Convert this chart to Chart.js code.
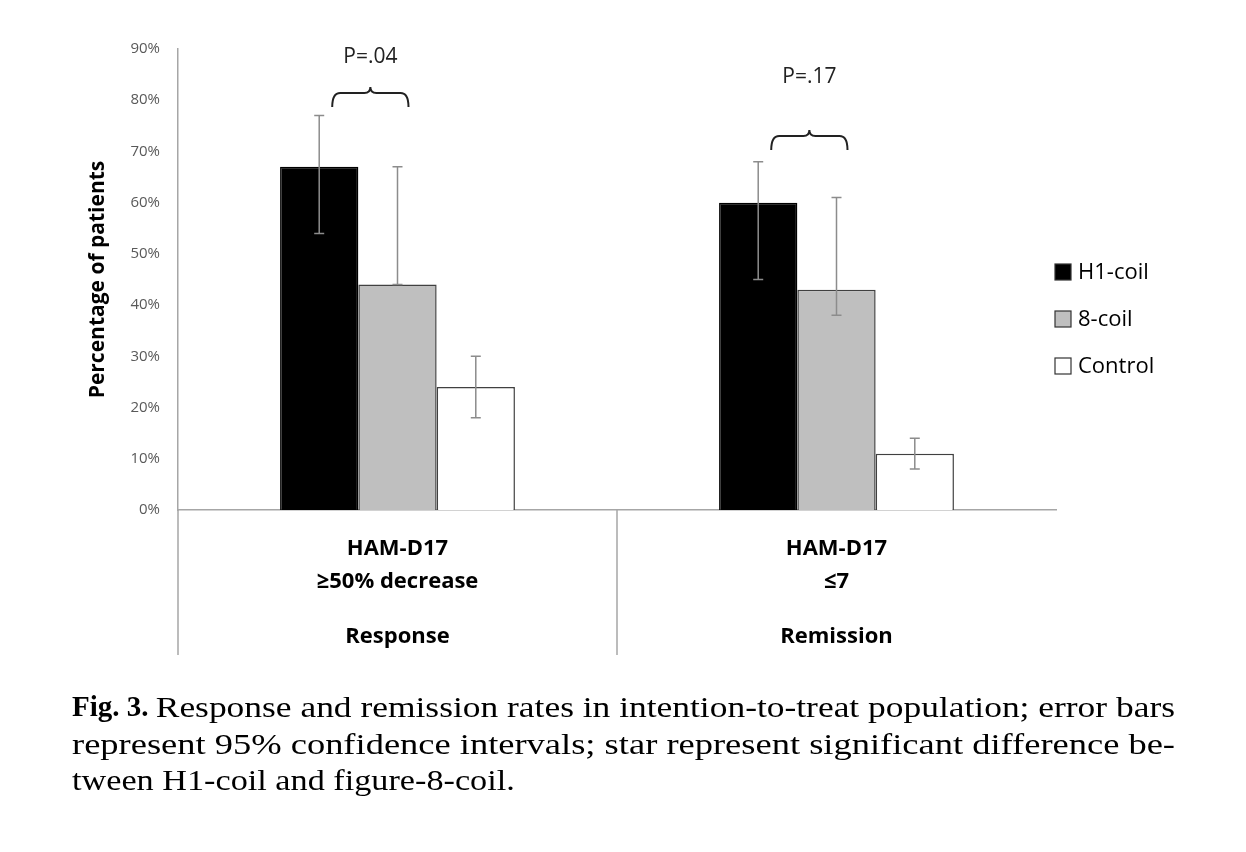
<!DOCTYPE html>
<html>
<head>
<meta charset="UTF-8">
<title>Fig. 3</title>
<style>
    body { margin: 0; background: #fff; }
    #wrap { width: 1246px; height: 852px; }
</style>
</head>
<body>
<div id="wrap"><canvas id="chart"></canvas></div>
<script src="https://cdn.jsdelivr.net/npm/chart.js"></script>
<script>
    // data
    const categories = ['Response', 'Remission'];
    const subLabels = [['HAM-D17', '≥50% decrease'], ['HAM-D17', '≤7']];
    const seriesNames = ['H1-coil', '8-coil', 'Control'];
    const h1Values = [67, 60];
    const coil8Values = [44, 43];
    const controlValues = [24, 11];
    const h1Lower = [54, 45], h1Upper = [77, 68];
    const coil8Lower = [44, 38], coil8Upper = [67, 61];
    const controlLower = [18, 8], controlUpper = [14 + 16, 14];
    controlUpper[0] = 30;
    const pValues = ['P=.04', 'P=.17'];
    const yTicks = [0, 10, 20, 30, 40, 50, 60, 70, 80, 90];

    const lowers = [h1Lower, coil8Lower, controlLower];
    const uppers = [h1Upper, coil8Upper, controlUpper];
    const fills = ['#000000', '#bfbfbf', '#ffffff'];

    const font = '"Open Sans", sans-serif';
    const serif = '"Liberation Serif", serif';

    function fitText(ctx, text, x, y, width) {
        const w = ctx.measureText(text).width;
        ctx.save();
        ctx.translate(x, y);
        ctx.scale(width / w, 1);
        ctx.fillText(text, 0, 0);
        ctx.restore();
    }

    const extras = {
        id: 'extras',
        afterDatasetsDraw(chart) {
            const ctx = chart.ctx;
            const y = chart.scales.y, x = chart.scales.x;
            const area = chart.chartArea;
            ctx.save();
            // error bars
            ctx.strokeStyle = '#8c8c8c';
            ctx.lineWidth = 1.5;
            chart.data.datasets.forEach((ds, i) => {
                chart.getDatasetMeta(i).data.forEach((bar, j) => {
                    const top = y.getPixelForValue(uppers[i][j]);
                    const bot = y.getPixelForValue(lowers[i][j]);
                    ctx.beginPath();
                    ctx.moveTo(bar.x, top); ctx.lineTo(bar.x, bot);
                    ctx.moveTo(bar.x - 5, top); ctx.lineTo(bar.x + 5, top);
                    ctx.moveTo(bar.x - 5, bot); ctx.lineTo(bar.x + 5, bot);
                    ctx.stroke();
                });
            });
            // braces + p values
            const braceBase = [78.7, 70.3];
            const pPos = [88.5, 84.6];
            ctx.strokeStyle = '#222';
            ctx.lineWidth = 2;
            ctx.fillStyle = '#222';
            ctx.font = '21px ' + font;
            ctx.textAlign = 'center';
            ctx.textBaseline = 'middle';
            for (let j = 0; j < 2; j++) {
                const a = chart.getDatasetMeta(0).data[j].x + 13;
                const b = chart.getDatasetMeta(1).data[j].x + 11;
                const m = (a + b) / 2;
                const yb = y.getPixelForValue(braceBase[j]);
                const yt = yb - 14;
                ctx.beginPath();
                ctx.moveTo(a, yb);
                ctx.quadraticCurveTo(a, yt, a + 8, yt);
                ctx.lineTo(m - 6, yt);
                ctx.quadraticCurveTo(m, yt, m, yt - 6);
                ctx.quadraticCurveTo(m, yt, m + 6, yt);
                ctx.lineTo(b - 8, yt);
                ctx.quadraticCurveTo(b, yt, b, yb);
                ctx.stroke();
                ctx.fillText(pValues[j], m, y.getPixelForValue(pPos[j]));
            }
            // category dividers
            ctx.strokeStyle = '#a6a6a6';
            ctx.lineWidth = 1.5;
            const step = (area.right - area.left) / categories.length;
            [area.left, area.left + step].forEach(px => {
                ctx.beginPath();
                ctx.moveTo(px, area.bottom); ctx.lineTo(px, area.bottom + 145);
                ctx.stroke();
            });
            // category labels
            ctx.fillStyle = '#000';
            ctx.font = 'bold 22px ' + font;
            categories.forEach((c, j) => {
                const cx = x.getPixelForValue(j);
                ctx.fillText(subLabels[j][0], cx, area.bottom + 39);
                ctx.fillText(subLabels[j][1], cx, area.bottom + 72);
                ctx.fillText(c, cx, area.bottom + 127);
            });
            // y title
            ctx.save();
            ctx.translate(98, (area.top + area.bottom) / 2);
            ctx.rotate(-Math.PI / 2);
            ctx.font = 'bold 21px ' + font;
            ctx.fillText('Percentage of patients', 0, 0);
            ctx.restore();
            // legend
            ctx.textAlign = 'left';
            ctx.font = '22px ' + font;
            seriesNames.forEach((n, i) => {
                const ly = 272 + i * 47;
                ctx.fillStyle = fills[i];
                ctx.fillRect(1055, ly - 8, 16, 16);
                ctx.strokeStyle = '#333';
                ctx.lineWidth = 1.2;
                ctx.strokeRect(1055, ly - 8, 16, 16);
                ctx.fillStyle = '#000';
                ctx.fillText(n, 1078, ly + 1);
            });
            // caption
            ctx.font = 'bold 29px ' + serif;
            ctx.fillText('Fig. 3.', 72, 709);
            const w = ctx.measureText('Fig. 3. ').width;
            ctx.font = '29px ' + serif;
            fitText(ctx, 'Response and remission rates in intention-to-treat population; error bars', 72 + w, 709, 1175 - 72 - w);
            fitText(ctx, 'represent 95% confidence intervals; star represent significant difference be-', 72, 746, 1103);
            const w3 = ctx.measureText('tween H1-coil and figure-8-coil.').width;
            fitText(ctx, 'tween H1-coil and figure-8-coil.', 72, 782, w3 * 1.18);
            ctx.restore();
        }
    };

    new Chart(document.getElementById('chart'), {
        type: 'bar',
        data: {
            labels: categories,
            datasets: [
                { label: seriesNames[0], data: h1Values, backgroundColor: fills[0], borderColor: '#000', borderWidth: 1.5 },
                { label: seriesNames[1], data: coil8Values, backgroundColor: fills[1], borderColor: '#404040', borderWidth: 1.5 },
                { label: seriesNames[2], data: controlValues, backgroundColor: fills[2], borderColor: '#404040', borderWidth: 1.5 }
            ]
        },
        options: {
            responsive: true,
            maintainAspectRatio: false,
            animation: false,
            layout: { padding: { top: 49, right: 190, bottom: 342, left: 0 } },
            datasets: { bar: { categoryPercentage: 0.535, barPercentage: 1 } },
            plugins: { legend: { display: false }, tooltip: { enabled: false } },
            scales: {
                x: {
                    grid: { display: false },
                    ticks: { display: false },
                    border: { color: '#a6a6a6', width: 1.5 },
                    afterFit: s => { s.height = 0; }
                },
                y: {
                    min: 0, max: 90,
                    afterFit: s => { s.width = 178; },
                    afterBuildTicks: s => { s.ticks = yTicks.map(v => ({ value: v })); },
                    grid: { display: false },
                    border: { color: '#a6a6a6', width: 1.5 },
                    ticks: { color: '#595959', font: { size: 15, family: font }, padding: 10, callback: v => v + '%' }
                }
            }
        },
        plugins: [extras]
    });
</script>
</body>
</html>
